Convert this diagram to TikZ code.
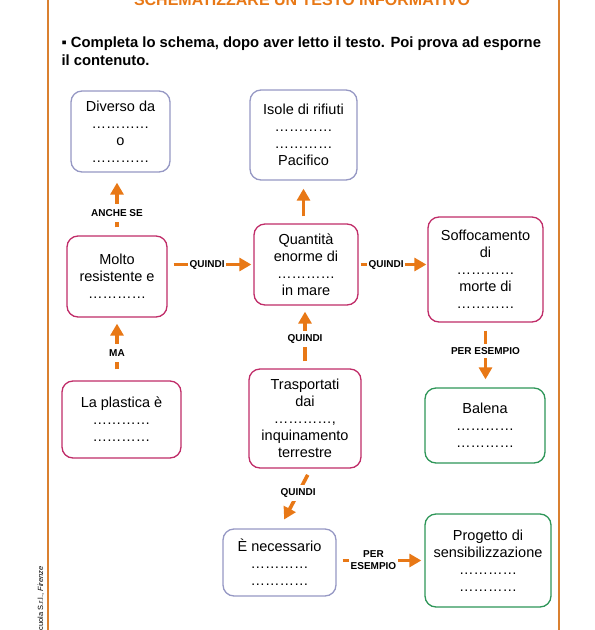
\documentclass[tikz,border=0pt]{standalone}
\usepackage{fontspec}
\setmainfont{Liberation Sans}
\usepackage{xcolor}
\usepackage{tikz}
\usetikzlibrary{arrows.meta}
\definecolor{frameorange}{RGB}{218,128,48}
\definecolor{arroworange}{RGB}{232,120,22}
\definecolor{boxmagenta}{RGB}{192,44,104}
\definecolor{boxlilac}{RGB}{150,152,196}
\definecolor{boxgreen}{RGB}{46,150,88}
\newcommand{\puntini}{…………}

\begin{document}
\begin{tikzpicture}[
  x=1pt,y=-1pt,
  every node/.style={font=\fontsize{14.5}{17}\selectfont},
  box/.style={draw,rounded corners=11pt,align=center,line width=1.3pt,inner sep=3pt,fill=white},
  viola/.style={box,draw=boxlilac},
  rosa/.style={box,draw=boxmagenta},
  verde/.style={box,draw=boxgreen},
  conn/.style={draw=arroworange,line width=3.6pt,-{Triangle[width=13pt,length=12pt]}},
  lbl/.style={fill=white,inner xsep=1.5pt,inner ysep=3.5pt,font=\bfseries\fontsize{10}{11.5}\selectfont},
  >=Stealth
]
  \useasboundingbox (0,0) rectangle (595,630);
  \clip (0,0) rectangle (595,630);

  % cornice e intestazione
  \draw[frameorange,line width=2.4pt] (48,-5) -- (48,640);
  \draw[frameorange,line width=2.4pt] (559,-5) -- (559,640);
  \node[anchor=base,text=arroworange,font=\bfseries\fontsize{16}{18}\selectfont] (titolo) at (302,5)
    {SCHEMATIZZARE UN TESTO INFORMATIVO};
  \node[anchor=north west,align=left,font=\bfseries\fontsize{14.8}{18}\selectfont] (consegna) at (58,33)
    {▪ Completa lo schema, dopo aver letto il testo. Poi prova ad esporne\\il contenuto.};
  \node[rotate=90,anchor=east,font=\fontsize{7.5}{8}\selectfont] (editore) at (41,563)
    {Scuola S.r.l., \textit{Firenze}};

  % riquadri
  \node[viola,minimum width=99pt,minimum height=81pt]  (diverso) at (120.5,131.5) {Diverso da\\ \puntini\\ o\\ \puntini};
  \node[viola,minimum width=107pt,minimum height=90pt] (isole)   at (303.5,135)   {Isole di rifiuti\\ \puntini\\ \puntini\\ Pacifico};
  \node[rosa,minimum width=100pt,minimum height=81pt]  (molto)   at (117,276.5)   {Molto\\ resistente e\\ \puntini};
  \node[rosa,minimum width=104pt,minimum height=81pt]  (quantita) at (306,264.5)  {Quantità\\ enorme di\\ \puntini\\ in mare};
  \node[rosa,minimum width=115pt,minimum height=105pt] (soffoc)  at (485.5,269.5) {Soffocamento\\ di\\ \puntini\\ morte di\\ \puntini};
  \node[rosa,minimum width=119pt,minimum height=77pt]  (plastica) at (121.5,419.5) {La plastica è\\ \puntini\\ \puntini};
  \node[rosa,minimum width=112pt,minimum height=99pt]  (trasporto) at (305,418.5) {Trasportati\\ dai\\ \puntini,\\ inquinamento\\ terrestre};
  \node[verde,minimum width=120pt,minimum height=75pt] (balena)  at (485,425.5)   {Balena\\ \puntini\\ \puntini};
  \node[viola,minimum width=113pt,minimum height=67pt] (necess)  at (279.5,562.5) {È necessario\\ \puntini\\ \puntini};
  \node[verde,minimum width=126pt,minimum height=93pt] (progetto) at (488,560.5)  {Progetto di\\ sensibilizzazione\\ \puntini\\ \puntini};

  % frecce
  \draw[conn,shorten <=11pt,shorten >=6pt] (molto.south |- plastica.north) -- node[lbl,inner ysep=5.5pt,pos=0.44] (ma) {MA} (molto.south);
  \draw[conn,shorten <=8pt,shorten >=10pt] (molto.north) -- node[lbl,inner ysep=5.5pt,pos=0.36] (anche) {ANCHE SE} (molto.north |- diverso.south);
  \draw[conn,shorten <=6pt,shorten >=2pt] (molto.east |- quantita.west) -- node[lbl,pos=0.46] (q1) {QUINDI} (quantita.west);
  \draw[conn,shorten <=2pt,shorten >=1pt] (quantita.east) -- node[lbl,pos=0.4] (q2) {QUINDI} (quantita.east -| soffoc.west);
  \draw[conn,shorten <=7pt,shorten >=8pt] (isole.south |- quantita.north) -- (isole.south);
  \draw[conn,shorten <=7pt,shorten >=6pt] (trasporto.north) -- node[lbl,pos=0.47] (q3) {QUINDI} (trasporto.north |- quantita.south);
  \draw[conn,shorten <=8pt,shorten >=8pt] (soffoc.south) -- node[lbl,pos=0.44] (es1) {PER ESEMPIO} (soffoc.south |- balena.north);
  \draw[conn,shorten <=7pt,shorten >=10pt] ([xshift=6pt]trasporto.south) -- node[lbl,pos=0.41] (q4) {QUINDI} (necess.north);
  \draw[conn,shorten <=6pt,shorten >=3pt] (necess.east |- progetto.west) -- node[lbl,align=center,pos=0.42,font=\bfseries\fontsize{10}{12}\selectfont] (es2) {PER\\ ESEMPIO} (progetto.west);
\end{tikzpicture}
\end{document}
